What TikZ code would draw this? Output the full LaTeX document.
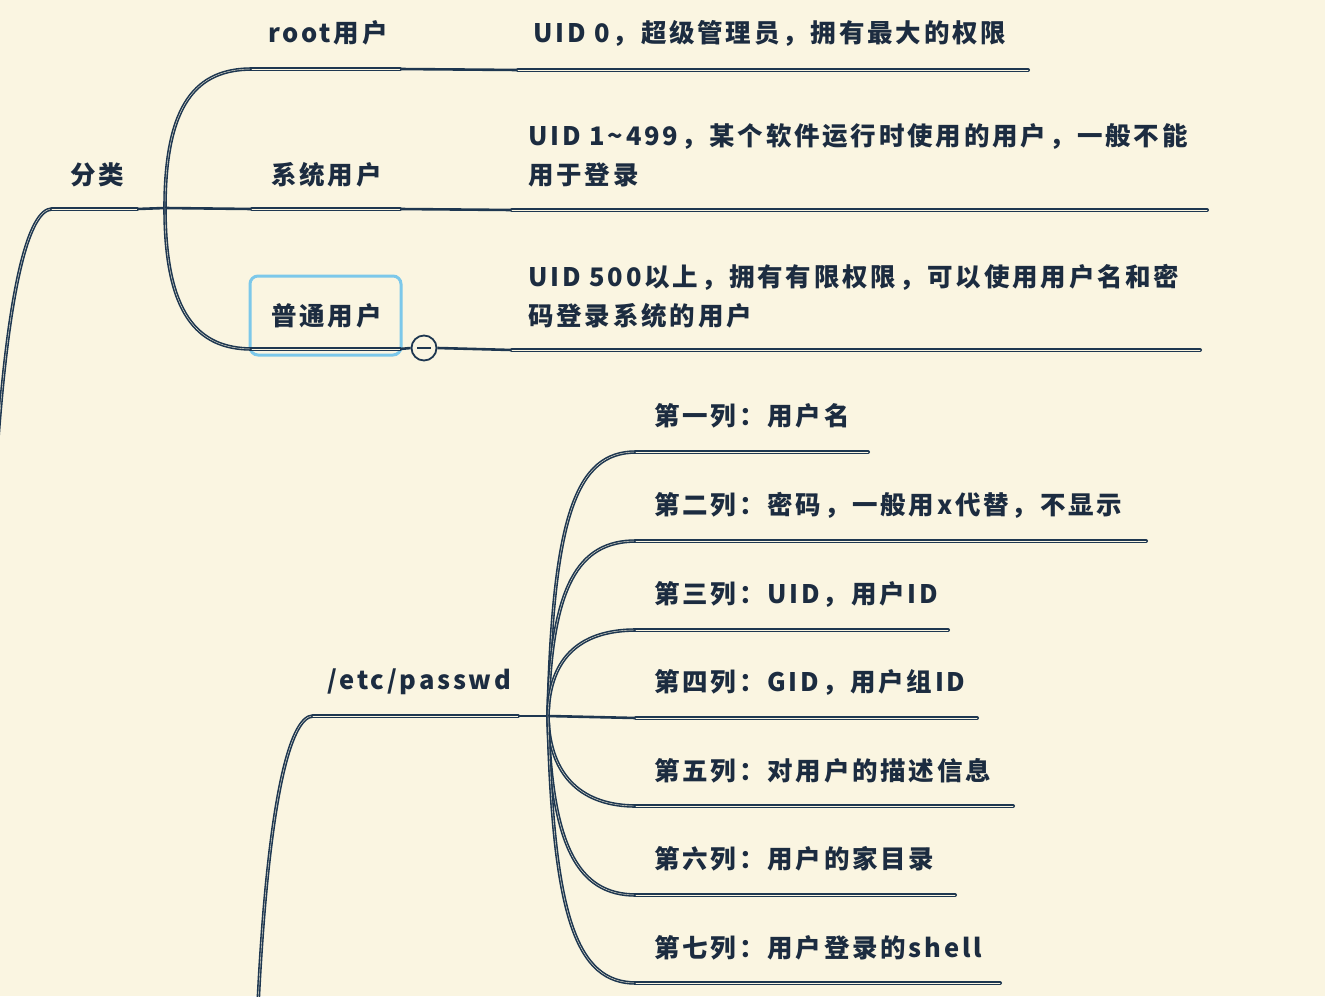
\documentclass[tikz,border=0pt]{standalone}
\usepackage{fontspec}
\setmainfont{Noto Sans CJK SC}[LetterSpace=11]
\definecolor{bg}{HTML}{FAF5E1}
\definecolor{ink}{HTML}{1E3750}
\definecolor{txt}{HTML}{1C2C40}
\definecolor{hl}{HTML}{7CC8EA}
\begin{document}
\begin{tikzpicture}[x=1pt,y=-1pt,
 lbl/.style={anchor=west,inner sep=0pt,text=txt,font=\fontsize{25.5}{39}\selectfont\bfseries,align=left},
 uline/.style={draw=ink,line width=1.7pt,double=bg,double distance=0.6pt,line cap=round},
 link/.style={draw=ink,line width=2.6pt},
 branch/.style={draw=ink,line width=1.6pt,double=bg,double distance=0.4pt}]
\fill[bg] (0,0) rectangle (1325,996);
\useasboundingbox (0,0) rectangle (1325,996);

% ---------- texts ----------
\node[lbl] (fl) at (70,175) {分类};
\node[lbl] (root) at (268,33) {root用户};
\node[lbl] (sys) at (271,175) {系统用户};
\node[lbl] (norm) at (271,316) {普通用户};
\node[lbl] (d0) at (533,33) {UID 0，超级管理员，拥有最大的权限};
\node[lbl] (d1) at (528,155.5) {UID 1\textasciitilde 499，某个软件运行时使用的用户，一般不能\\用于登录};
\node[lbl] (d2) at (528,296.5) {UID 500以上，拥有有限权限，可以使用用户名和密\\码登录系统的用户};
\node[lbl] (pw) at (327,682) {/etc/passwd};
\node[lbl] (c1) at (654,416) {第一列：用户名};
\node[lbl] (c2) at (654,505) {第二列：密码，一般用x代替，不显示};
\node[lbl] (c3) at (654,594) {第三列：UID，用户ID};
\node[lbl] (c4) at (654,682) {第四列：GID，用户组ID};
\node[lbl] (c5) at (654,771) {第五列：对用户的描述信息};
\node[lbl] (c6) at (654,859) {第六列：用户的家目录};
\node[lbl] (c7) at (654,948) {第七列：用户登录的shell};

% ---------- anchor points ----------
\coordinate (flA) at (52,209);  \coordinate (flB) at (137,209);
\coordinate (j1) at (165,208);
\coordinate (rootA) at (252,69); \coordinate (rootB) at (400,69);
\coordinate (sysA) at (252,209); \coordinate (sysB) at (400,209);
\coordinate (normA) at (252,349); \coordinate (normB) at (400,349);
\coordinate (d0A) at (518,70); \coordinate (d0B) at (1028,70);
\coordinate (d1A) at (512,210); \coordinate (d1B) at (1207,210);
\coordinate (d2A) at (512,350); \coordinate (d2B) at (1200,350);
\coordinate (pwA) at (313,716); \coordinate (pwB) at (518,716);
\coordinate (j2) at (548,716);
\coordinate (c1A) at (636,452); \coordinate (c1B) at (868,452);
\coordinate (c2A) at (636,541); \coordinate (c2B) at (1146,541);
\coordinate (c3A) at (636,630); \coordinate (c3B) at (948,630);
\coordinate (c4A) at (636,718); \coordinate (c4B) at (977,718);
\coordinate (c5A) at (636,806); \coordinate (c5B) at (1013,806);
\coordinate (c6A) at (636,895); \coordinate (c6B) at (955,895);
\coordinate (c7A) at (636,983); \coordinate (c7B) at (1000,983);
\coordinate (offL) at (-6,500);
\coordinate (offB) at (258,1005);

% ---------- highlight box ----------
\draw[hl,line width=3pt,rounded corners=8pt] (250,276) rectangle (401,355);

% ---------- big branches from off-screen ----------
\draw[branch] (flA) .. controls +(-22,0) and +(12,-220) .. (offL);
\draw[branch] (pwA) .. controls +(-23,0) and +(10,-205) .. (offB);

% ---------- 分类 ----------
\draw[uline] (flA) -- (flB);
\draw[link] (flB) -- (j1);
\draw[branch] (j1) .. controls +(0,-105) and +(-55,0) .. (rootA);
\draw[link] (j1) -- (sysA);
\draw[branch] (j1) .. controls +(0,105) and +(-55,0) .. (normA);

\draw[uline] (rootA) -- (rootB);
\draw[uline] (sysA) -- (sysB);
\draw[uline] (normA) -- (normB);

\draw[link] (rootB) -- (d0A);
\draw[link] (sysB) -- (d1A);
\node[circle,draw=ink,fill=bg,line width=1.8pt,minimum size=25pt,inner sep=0pt] (col) at (424,348) {};
\draw[ink,line width=1.8pt] ([xshift=-7pt]col.center) -- ([xshift=7pt]col.center);
\draw[link] (normB) -- (col.west);
\draw[link] (col.east) -- (d2A);

\draw[uline] (d0A) -- (d0B);
\draw[uline] (d1A) -- (d1B);
\draw[uline] (d2A) -- (d2B);

% ---------- /etc/passwd ----------
\draw[uline] (pwA) -- (pwB);
\draw[link] (pwB) -- (j2);
\draw[branch] (j2) .. controls +(5,-200) and +(-60,0) .. (c1A);
\draw[branch] (j2) .. controls +(3,-130) and +(-58,0) .. (c2A);
\draw[branch] (j2) .. controls +(1,-62) and +(-52,0) .. (c3A);
\draw[link] (j2) -- (c4A);
\draw[branch] (j2) .. controls +(1,62) and +(-52,0) .. (c5A);
\draw[branch] (j2) .. controls +(3,130) and +(-58,0) .. (c6A);
\draw[branch] (j2) .. controls +(5,200) and +(-60,0) .. (c7A);

\draw[uline] (c1A) -- (c1B);
\draw[uline] (c2A) -- (c2B);
\draw[uline] (c3A) -- (c3B);
\draw[uline] (c4A) -- (c4B);
\draw[uline] (c5A) -- (c5B);
\draw[uline] (c6A) -- (c6B);
\draw[uline] (c7A) -- (c7B);
\end{tikzpicture}
\end{document}
